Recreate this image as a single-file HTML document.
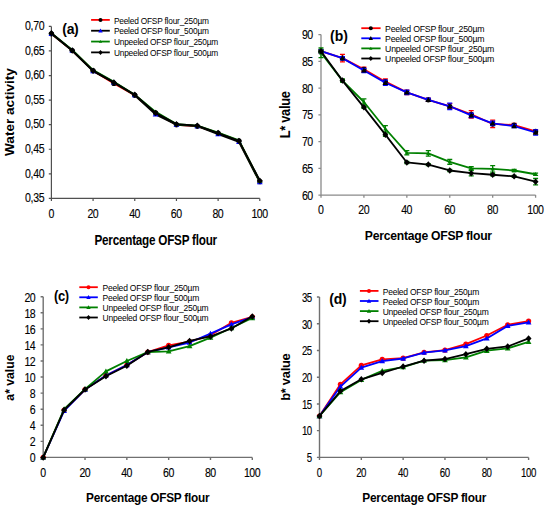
<!DOCTYPE html>
<html><head><meta charset="utf-8"><style>
html,body{margin:0;padding:0;background:#fff;width:550px;height:513px;overflow:hidden}
svg{display:block;font-family:"Liberation Sans", sans-serif}
</style></head><body>
<svg width="550" height="513" viewBox="0 0 550 513">
<rect width="550" height="513" fill="#fff"/>
<path d="M51.40,26.40 V198.40 H259.80" fill="none" stroke="#505050" stroke-width="1.2"/>
<path d="M48.80,198.40H51.40M48.80,173.83H51.40M48.80,149.26H51.40M48.80,124.69H51.40M48.80,100.11H51.40M48.80,75.54H51.40M48.80,50.97H51.40M48.80,26.40H51.40M51.40,198.40V201.00M93.08,198.40V201.00M134.76,198.40V201.00M176.44,198.40V201.00M218.12,198.40V201.00M259.80,198.40V201.00" fill="none" stroke="#505050" stroke-width="1.2"/>
<text transform="translate(44.60,202.20) scale(0.882,1)" font-size="12" font-weight="normal" text-anchor="end" fill="#000" textLength="22.24" lengthAdjust="spacing" stroke="#000" stroke-width="0.12">0,35</text>
<text transform="translate(44.60,177.63) scale(0.882,1)" font-size="12" font-weight="normal" text-anchor="end" fill="#000" textLength="22.24" lengthAdjust="spacing" stroke="#000" stroke-width="0.12">0,40</text>
<text transform="translate(44.60,153.06) scale(0.882,1)" font-size="12" font-weight="normal" text-anchor="end" fill="#000" textLength="22.24" lengthAdjust="spacing" stroke="#000" stroke-width="0.12">0,45</text>
<text transform="translate(44.60,128.49) scale(0.882,1)" font-size="12" font-weight="normal" text-anchor="end" fill="#000" textLength="22.24" lengthAdjust="spacing" stroke="#000" stroke-width="0.12">0,50</text>
<text transform="translate(44.60,103.91) scale(0.882,1)" font-size="12" font-weight="normal" text-anchor="end" fill="#000" textLength="22.24" lengthAdjust="spacing" stroke="#000" stroke-width="0.12">0,55</text>
<text transform="translate(44.60,79.34) scale(0.882,1)" font-size="12" font-weight="normal" text-anchor="end" fill="#000" textLength="22.24" lengthAdjust="spacing" stroke="#000" stroke-width="0.12">0,60</text>
<text transform="translate(44.60,54.77) scale(0.882,1)" font-size="12" font-weight="normal" text-anchor="end" fill="#000" textLength="22.24" lengthAdjust="spacing" stroke="#000" stroke-width="0.12">0,65</text>
<text transform="translate(44.60,30.20) scale(0.882,1)" font-size="12" font-weight="normal" text-anchor="end" fill="#000" textLength="22.24" lengthAdjust="spacing" stroke="#000" stroke-width="0.12">0,70</text>
<text transform="translate(51.40,217.50) scale(0.882,1)" font-size="12" font-weight="normal" text-anchor="middle" fill="#000" textLength="6.36" lengthAdjust="spacing" stroke="#000" stroke-width="0.12">0</text>
<text transform="translate(93.08,217.50) scale(0.882,1)" font-size="12" font-weight="normal" text-anchor="middle" fill="#000" textLength="12.71" lengthAdjust="spacing" stroke="#000" stroke-width="0.12">20</text>
<text transform="translate(134.76,217.50) scale(0.882,1)" font-size="12" font-weight="normal" text-anchor="middle" fill="#000" textLength="12.71" lengthAdjust="spacing" stroke="#000" stroke-width="0.12">40</text>
<text transform="translate(176.44,217.50) scale(0.882,1)" font-size="12" font-weight="normal" text-anchor="middle" fill="#000" textLength="12.71" lengthAdjust="spacing" stroke="#000" stroke-width="0.12">60</text>
<text transform="translate(218.12,217.50) scale(0.882,1)" font-size="12" font-weight="normal" text-anchor="middle" fill="#000" textLength="12.71" lengthAdjust="spacing" stroke="#000" stroke-width="0.12">80</text>
<text transform="translate(259.80,217.50) scale(0.882,1)" font-size="12" font-weight="normal" text-anchor="middle" fill="#000" textLength="19.07" lengthAdjust="spacing" stroke="#000" stroke-width="0.12">100</text>
<text transform="translate(155.80,245.40) scale(0.832,1)" font-size="14.1" font-weight="bold" text-anchor="middle" fill="#000" textLength="147.42" lengthAdjust="spacing">Percentage OFSP flour</text>
<text transform="translate(13.70,112.05) rotate(-90) scale(1.000,1)" font-size="13.6" font-weight="bold" text-anchor="middle" fill="#000">Water activity</text>
<text transform="translate(62.30,33.60) scale(0.967,1)" font-size="14.5" font-weight="bold" text-anchor="start" fill="#000" textLength="17.04" lengthAdjust="spacing">(a)</text>
<polyline points="51.40,33.77 72.24,50.48 93.08,70.63 113.92,83.41 134.76,95.20 155.60,112.89 176.44,124.69 197.28,126.16 218.12,133.04 238.96,140.90 259.80,181.69" fill="none" stroke="#ff0000" stroke-width="1.9" stroke-linejoin="round"/>
<circle cx="51.40" cy="33.77" r="2.60" fill="#000000"/>
<circle cx="72.24" cy="50.48" r="2.60" fill="#000000"/>
<circle cx="93.08" cy="70.63" r="2.60" fill="#000000"/>
<circle cx="113.92" cy="83.41" r="2.60" fill="#000000"/>
<circle cx="134.76" cy="95.20" r="2.60" fill="#000000"/>
<circle cx="155.60" cy="112.89" r="2.60" fill="#000000"/>
<circle cx="176.44" cy="124.69" r="2.60" fill="#000000"/>
<circle cx="197.28" cy="126.16" r="2.60" fill="#000000"/>
<circle cx="218.12" cy="133.04" r="2.60" fill="#000000"/>
<circle cx="238.96" cy="140.90" r="2.60" fill="#000000"/>
<circle cx="259.80" cy="181.69" r="2.60" fill="#000000"/>
<polyline points="51.40,33.77 72.24,50.48 93.08,71.12 113.92,82.42 134.76,95.20 155.60,114.37 176.44,124.69 197.28,126.16 218.12,134.02 238.96,141.89 259.80,182.18" fill="none" stroke="#000000" stroke-width="1.9" stroke-linejoin="round"/>
<path d="M51.40,30.91 L54.26,35.92 L48.54,35.92Z" fill="#0000ff"/>
<path d="M72.24,47.62 L75.10,52.62 L69.38,52.62Z" fill="#0000ff"/>
<path d="M93.08,68.26 L95.94,73.26 L90.22,73.26Z" fill="#0000ff"/>
<path d="M113.92,79.56 L116.78,84.57 L111.06,84.57Z" fill="#0000ff"/>
<path d="M134.76,92.34 L137.62,97.34 L131.90,97.34Z" fill="#0000ff"/>
<path d="M155.60,111.51 L158.46,116.51 L152.74,116.51Z" fill="#0000ff"/>
<path d="M176.44,121.83 L179.30,126.83 L173.58,126.83Z" fill="#0000ff"/>
<path d="M197.28,123.30 L200.14,128.30 L194.42,128.30Z" fill="#0000ff"/>
<path d="M218.12,131.16 L220.98,136.17 L215.26,136.17Z" fill="#0000ff"/>
<path d="M238.96,139.03 L241.82,144.03 L236.10,144.03Z" fill="#0000ff"/>
<path d="M259.80,179.32 L262.66,184.33 L256.94,184.33Z" fill="#0000ff"/>
<polyline points="51.40,33.28 72.24,49.99 93.08,70.14 113.92,81.93 134.76,94.71 155.60,111.91 176.44,124.19 197.28,125.67 218.12,132.55 238.96,140.41 259.80,181.20" fill="none" stroke="#008000" stroke-width="1.9" stroke-linejoin="round"/>
<path d="M51.40,31.08 L53.60,34.93 L49.20,34.93Z" fill="#008000"/>
<path d="M72.24,47.79 L74.44,51.64 L70.04,51.64Z" fill="#008000"/>
<path d="M93.08,67.94 L95.28,71.79 L90.88,71.79Z" fill="#008000"/>
<path d="M113.92,79.73 L116.12,83.58 L111.72,83.58Z" fill="#008000"/>
<path d="M134.76,92.51 L136.96,96.36 L132.56,96.36Z" fill="#008000"/>
<path d="M155.60,109.71 L157.80,113.56 L153.40,113.56Z" fill="#008000"/>
<path d="M176.44,121.99 L178.64,125.84 L174.24,125.84Z" fill="#008000"/>
<path d="M197.28,123.47 L199.48,127.32 L195.08,127.32Z" fill="#008000"/>
<path d="M218.12,130.35 L220.32,134.20 L215.92,134.20Z" fill="#008000"/>
<path d="M238.96,138.21 L241.16,142.06 L236.76,142.06Z" fill="#008000"/>
<path d="M259.80,179.00 L262.00,182.85 L257.60,182.85Z" fill="#008000"/>
<polyline points="51.40,33.28 72.24,50.48 93.08,70.63 113.92,82.42 134.76,94.71 155.60,112.89 176.44,124.19 197.28,125.67 218.12,133.04 238.96,140.90 259.80,180.71" fill="none" stroke="#000000" stroke-width="1.9" stroke-linejoin="round"/>
<path d="M51.40,30.03 L54.32,33.28 L51.40,36.53 L48.48,33.28Z" fill="#000000"/>
<path d="M72.24,47.23 L75.16,50.48 L72.24,53.73 L69.31,50.48Z" fill="#000000"/>
<path d="M93.08,67.38 L96.00,70.63 L93.08,73.88 L90.16,70.63Z" fill="#000000"/>
<path d="M113.92,79.17 L116.84,82.42 L113.92,85.67 L111.00,82.42Z" fill="#000000"/>
<path d="M134.76,91.46 L137.69,94.71 L134.76,97.96 L131.83,94.71Z" fill="#000000"/>
<path d="M155.60,109.64 L158.53,112.89 L155.60,116.14 L152.67,112.89Z" fill="#000000"/>
<path d="M176.44,120.94 L179.37,124.19 L176.44,127.44 L173.51,124.19Z" fill="#000000"/>
<path d="M197.28,122.42 L200.21,125.67 L197.28,128.92 L194.35,125.67Z" fill="#000000"/>
<path d="M218.12,129.79 L221.05,133.04 L218.12,136.29 L215.19,133.04Z" fill="#000000"/>
<path d="M238.96,137.65 L241.89,140.90 L238.96,144.15 L236.03,140.90Z" fill="#000000"/>
<path d="M259.80,177.46 L262.73,180.71 L259.80,183.96 L256.88,180.71Z" fill="#000000"/>
<path d="M91.10,19.90H109.80" stroke="#ff0000" stroke-width="1.8"/>
<circle cx="100.50" cy="19.90" r="2.00" fill="#000000"/>
<text transform="translate(113.90,23.60) scale(0.898,1)" font-size="9.3" font-weight="normal" text-anchor="start" fill="#000" textLength="105.87" lengthAdjust="spacing">Peeled OFSP flour_250µm</text>
<path d="M91.10,30.73H109.80" stroke="#000000" stroke-width="1.8"/>
<path d="M100.50,28.53 L102.70,32.38 L98.30,32.38Z" fill="#0000ff"/>
<text transform="translate(113.90,34.43) scale(0.898,1)" font-size="9.3" font-weight="normal" text-anchor="start" fill="#000" textLength="105.87" lengthAdjust="spacing">Peeled OFSP flour_500µm</text>
<path d="M91.10,41.56H109.80" stroke="#008000" stroke-width="1.8"/>
<path d="M100.50,39.91 L102.15,42.80 L98.85,42.80Z" fill="#008000"/>
<text transform="translate(113.90,45.26) scale(0.898,1)" font-size="9.3" font-weight="normal" text-anchor="start" fill="#000" textLength="116.21" lengthAdjust="spacing">Unpeeled OFSP flour_250µm</text>
<path d="M91.10,52.39H109.80" stroke="#000000" stroke-width="1.8"/>
<path d="M100.50,49.89 L102.75,52.39 L100.50,54.89 L98.25,52.39Z" fill="#000000"/>
<text transform="translate(113.90,56.09) scale(0.898,1)" font-size="9.3" font-weight="normal" text-anchor="start" fill="#000" textLength="116.21" lengthAdjust="spacing">Unpeeled OFSP flour_500µm</text>
<path d="M321.00,34.60 V195.10 H535.60" fill="none" stroke="#8a8a8a" stroke-width="1.3"/>
<path d="M318.40,195.10H321.00M318.40,168.35H321.00M318.40,141.60H321.00M318.40,114.85H321.00M318.40,88.10H321.00M318.40,61.35H321.00M318.40,34.60H321.00M321.00,195.10V197.70M363.92,195.10V197.70M406.84,195.10V197.70M449.76,195.10V197.70M492.68,195.10V197.70M535.60,195.10V197.70" fill="none" stroke="#8a8a8a" stroke-width="1.3"/>
<text transform="translate(313.20,199.50) scale(0.877,1)" font-size="12.1" font-weight="normal" text-anchor="end" fill="#000" textLength="12.82" lengthAdjust="spacing" stroke="#000" stroke-width="0.12">60</text>
<text transform="translate(313.20,172.75) scale(0.877,1)" font-size="12.1" font-weight="normal" text-anchor="end" fill="#000" textLength="12.82" lengthAdjust="spacing" stroke="#000" stroke-width="0.12">65</text>
<text transform="translate(313.20,146.00) scale(0.877,1)" font-size="12.1" font-weight="normal" text-anchor="end" fill="#000" textLength="12.82" lengthAdjust="spacing" stroke="#000" stroke-width="0.12">70</text>
<text transform="translate(313.20,119.25) scale(0.877,1)" font-size="12.1" font-weight="normal" text-anchor="end" fill="#000" textLength="12.82" lengthAdjust="spacing" stroke="#000" stroke-width="0.12">75</text>
<text transform="translate(313.20,92.50) scale(0.877,1)" font-size="12.1" font-weight="normal" text-anchor="end" fill="#000" textLength="12.82" lengthAdjust="spacing" stroke="#000" stroke-width="0.12">80</text>
<text transform="translate(313.20,65.75) scale(0.877,1)" font-size="12.1" font-weight="normal" text-anchor="end" fill="#000" textLength="12.82" lengthAdjust="spacing" stroke="#000" stroke-width="0.12">85</text>
<text transform="translate(313.20,39.00) scale(0.877,1)" font-size="12.1" font-weight="normal" text-anchor="end" fill="#000" textLength="12.82" lengthAdjust="spacing" stroke="#000" stroke-width="0.12">90</text>
<text transform="translate(321.00,213.50) scale(0.877,1)" font-size="12.1" font-weight="normal" text-anchor="middle" fill="#000" textLength="6.41" lengthAdjust="spacing" stroke="#000" stroke-width="0.12">0</text>
<text transform="translate(363.92,213.50) scale(0.877,1)" font-size="12.1" font-weight="normal" text-anchor="middle" fill="#000" textLength="12.82" lengthAdjust="spacing" stroke="#000" stroke-width="0.12">20</text>
<text transform="translate(406.84,213.50) scale(0.877,1)" font-size="12.1" font-weight="normal" text-anchor="middle" fill="#000" textLength="12.82" lengthAdjust="spacing" stroke="#000" stroke-width="0.12">40</text>
<text transform="translate(449.76,213.50) scale(0.877,1)" font-size="12.1" font-weight="normal" text-anchor="middle" fill="#000" textLength="12.82" lengthAdjust="spacing" stroke="#000" stroke-width="0.12">60</text>
<text transform="translate(492.68,213.50) scale(0.877,1)" font-size="12.1" font-weight="normal" text-anchor="middle" fill="#000" textLength="12.82" lengthAdjust="spacing" stroke="#000" stroke-width="0.12">80</text>
<text transform="translate(535.60,213.50) scale(0.877,1)" font-size="12.1" font-weight="normal" text-anchor="middle" fill="#000" textLength="19.23" lengthAdjust="spacing" stroke="#000" stroke-width="0.12">100</text>
<text transform="translate(428.45,239.50) scale(0.936,1)" font-size="13" font-weight="bold" text-anchor="middle" fill="#000" textLength="135.92" lengthAdjust="spacing">Percentage OFSP flour</text>
<text transform="translate(290.00,114.70) rotate(-90) scale(0.915,1)" font-size="14.0" font-weight="bold" text-anchor="middle" fill="#000" textLength="51.62" lengthAdjust="spacing">L* value</text>
<text transform="translate(330.10,40.80) scale(1.000,1)" font-size="14" font-weight="bold" text-anchor="start" fill="#000">(b)</text>
<path d="M321.00,49.58V52.79M318.50,49.58h5M318.50,52.79h5M342.46,54.40V61.89M339.96,54.40h5M339.96,61.89h5M363.92,67.23V71.52M361.42,67.23h5M361.42,71.52h5M385.38,79.00V84.35M382.88,79.00h5M382.88,84.35h5M406.84,90.24V94.52M404.34,90.24h5M404.34,94.52h5M428.30,98.27V101.47M425.80,98.27h5M425.80,101.47h5M449.76,103.62V108.97M447.26,103.62h5M447.26,108.97h5M471.22,110.57V118.06M468.72,110.57h5M468.72,118.06h5M492.68,120.20V127.69M490.18,120.20h5M490.18,127.69h5M514.14,123.41V126.62M511.64,123.41h5M511.64,126.62h5M535.60,129.83V133.04M533.10,129.83h5M533.10,133.04h5" fill="none" stroke="#ff0000" stroke-width="1.3"/>
<polyline points="321.00,51.18 342.46,58.14 363.92,69.38 385.38,81.68 406.84,92.38 428.30,99.87 449.76,106.29 471.22,114.32 492.68,123.95 514.14,125.02 535.60,131.43" fill="none" stroke="#ff0000" stroke-width="1.8" stroke-linejoin="round"/>
<circle cx="321.00" cy="51.18" r="2.60" fill="#000000"/>
<circle cx="342.46" cy="58.14" r="2.60" fill="#000000"/>
<circle cx="363.92" cy="69.38" r="2.60" fill="#000000"/>
<circle cx="385.38" cy="81.68" r="2.60" fill="#000000"/>
<circle cx="406.84" cy="92.38" r="2.60" fill="#000000"/>
<circle cx="428.30" cy="99.87" r="2.60" fill="#000000"/>
<circle cx="449.76" cy="106.29" r="2.60" fill="#000000"/>
<circle cx="471.22" cy="114.32" r="2.60" fill="#000000"/>
<circle cx="492.68" cy="123.95" r="2.60" fill="#000000"/>
<circle cx="514.14" cy="125.02" r="2.60" fill="#000000"/>
<circle cx="535.60" cy="131.43" r="2.60" fill="#000000"/>
<path d="M321.00,49.58V52.79M318.50,49.58h5M318.50,52.79h5M342.46,56.54V59.75M339.96,56.54h5M339.96,59.75h5M363.92,68.30V72.59M361.42,68.30h5M361.42,72.59h5M385.38,80.08V85.43M382.88,80.08h5M382.88,85.43h5M406.84,90.24V94.52M404.34,90.24h5M404.34,94.52h5M428.30,98.27V101.47M425.80,98.27h5M425.80,101.47h5M449.76,103.08V109.50M447.26,103.08h5M447.26,109.50h5M471.22,113.24V117.53M468.72,113.24h5M468.72,117.53h5M492.68,121.27V125.55M490.18,121.27h5M490.18,125.55h5M514.14,124.48V127.69M511.64,124.48h5M511.64,127.69h5M535.60,129.83V135.18M533.10,129.83h5M533.10,135.18h5" fill="none" stroke="#0000ff" stroke-width="1.3"/>
<polyline points="321.00,51.18 342.46,58.14 363.92,70.45 385.38,82.75 406.84,92.38 428.30,99.87 449.76,106.29 471.22,115.38 492.68,123.41 514.14,126.08 535.60,132.50" fill="none" stroke="#0000ff" stroke-width="1.8" stroke-linejoin="round"/>
<path d="M321.00,48.32 L323.86,53.33 L318.14,53.33Z" fill="#000000"/>
<path d="M342.46,55.28 L345.32,60.29 L339.60,60.29Z" fill="#000000"/>
<path d="M363.92,67.59 L366.78,72.59 L361.06,72.59Z" fill="#000000"/>
<path d="M385.38,79.89 L388.24,84.89 L382.52,84.89Z" fill="#000000"/>
<path d="M406.84,89.52 L409.70,94.52 L403.98,94.52Z" fill="#000000"/>
<path d="M428.30,97.01 L431.16,102.02 L425.44,102.02Z" fill="#000000"/>
<path d="M449.76,103.43 L452.62,108.44 L446.90,108.44Z" fill="#000000"/>
<path d="M471.22,112.52 L474.08,117.53 L468.36,117.53Z" fill="#000000"/>
<path d="M492.68,120.55 L495.54,125.55 L489.82,125.55Z" fill="#000000"/>
<path d="M514.14,123.22 L517.00,128.23 L511.28,128.23Z" fill="#000000"/>
<path d="M535.60,129.64 L538.46,134.65 L532.74,134.65Z" fill="#000000"/>
<path d="M321.00,47.98V57.61M318.50,47.98h5M318.50,57.61h5M342.46,79.00V82.21M339.96,79.00h5M339.96,82.21h5M363.92,98.80V105.22M361.42,98.80h5M361.42,105.22h5M385.38,125.55V131.97M382.88,125.55h5M382.88,131.97h5M406.84,150.69V154.97M404.34,150.69h5M404.34,154.97h5M428.30,150.70V156.05M425.80,150.70h5M425.80,156.05h5M449.76,159.52V164.34M447.26,159.52h5M447.26,164.34h5M471.22,166.75V169.95M468.72,166.75h5M468.72,169.95h5M492.68,165.67V172.09M490.18,165.67h5M490.18,172.09h5M514.14,169.42V171.56M511.64,169.42h5M511.64,171.56h5M535.60,173.17V175.31M533.10,173.17h5M533.10,175.31h5" fill="none" stroke="#008000" stroke-width="1.3"/>
<polyline points="321.00,52.79 342.46,80.61 363.92,102.01 385.38,128.76 406.84,152.83 428.30,153.37 449.76,161.93 471.22,168.35 492.68,168.88 514.14,170.49 535.60,174.24" fill="none" stroke="#008000" stroke-width="1.8" stroke-linejoin="round"/>
<path d="M321.00,50.59 L323.20,54.44 L318.80,54.44Z" fill="#008000"/>
<path d="M342.46,78.41 L344.66,82.26 L340.26,82.26Z" fill="#008000"/>
<path d="M363.92,99.81 L366.12,103.66 L361.72,103.66Z" fill="#008000"/>
<path d="M385.38,126.56 L387.58,130.41 L383.18,130.41Z" fill="#008000"/>
<path d="M406.84,150.63 L409.04,154.48 L404.64,154.48Z" fill="#008000"/>
<path d="M428.30,151.17 L430.50,155.02 L426.10,155.02Z" fill="#008000"/>
<path d="M449.76,159.73 L451.96,163.58 L447.56,163.58Z" fill="#008000"/>
<path d="M471.22,166.15 L473.42,170.00 L469.02,170.00Z" fill="#008000"/>
<path d="M492.68,166.68 L494.88,170.53 L490.48,170.53Z" fill="#008000"/>
<path d="M514.14,168.29 L516.34,172.14 L511.94,172.14Z" fill="#008000"/>
<path d="M535.60,172.04 L537.80,175.89 L533.40,175.89Z" fill="#008000"/>
<path d="M321.00,50.11V52.25M318.50,50.11h5M318.50,52.25h5M342.46,79.54V81.68M339.96,79.54h5M339.96,81.68h5M363.92,106.29V108.43M361.42,106.29h5M361.42,108.43h5M385.38,133.04V136.25M382.88,133.04h5M382.88,136.25h5M406.84,161.40V163.54M404.34,161.40h5M404.34,163.54h5M428.30,163.53V165.67M425.80,163.53h5M425.80,165.67h5M449.76,169.42V171.56M447.26,169.42h5M447.26,171.56h5M471.22,170.49V175.84M468.72,170.49h5M468.72,175.84h5M492.68,173.70V175.84M490.18,173.70h5M490.18,175.84h5M514.14,175.30V177.44M511.64,175.30h5M511.64,177.44h5M535.60,178.51V184.94M533.10,178.51h5M533.10,184.94h5" fill="none" stroke="#008000" stroke-width="1.3"/>
<polyline points="321.00,51.18 342.46,80.61 363.92,107.36 385.38,134.65 406.84,162.47 428.30,164.60 449.76,170.49 471.22,173.17 492.68,174.77 514.14,176.38 535.60,181.72" fill="none" stroke="#000000" stroke-width="1.8" stroke-linejoin="round"/>
<path d="M321.00,47.93 L323.93,51.18 L321.00,54.43 L318.07,51.18Z" fill="#000000"/>
<path d="M342.46,77.36 L345.38,80.61 L342.46,83.86 L339.53,80.61Z" fill="#000000"/>
<path d="M363.92,104.11 L366.85,107.36 L363.92,110.61 L361.00,107.36Z" fill="#000000"/>
<path d="M385.38,131.40 L388.31,134.65 L385.38,137.90 L382.45,134.65Z" fill="#000000"/>
<path d="M406.84,159.22 L409.77,162.47 L406.84,165.72 L403.92,162.47Z" fill="#000000"/>
<path d="M428.30,161.35 L431.23,164.60 L428.30,167.85 L425.38,164.60Z" fill="#000000"/>
<path d="M449.76,167.24 L452.69,170.49 L449.76,173.74 L446.83,170.49Z" fill="#000000"/>
<path d="M471.22,169.92 L474.15,173.17 L471.22,176.42 L468.30,173.17Z" fill="#000000"/>
<path d="M492.68,171.52 L495.61,174.77 L492.68,178.02 L489.75,174.77Z" fill="#000000"/>
<path d="M514.14,173.12 L517.07,176.38 L514.14,179.62 L511.22,176.38Z" fill="#000000"/>
<path d="M535.60,178.47 L538.52,181.72 L535.60,184.97 L532.68,181.72Z" fill="#000000"/>
<path d="M361.30,28.20H380.60" stroke="#ff0000" stroke-width="1.8"/>
<circle cx="370.80" cy="28.20" r="2.00" fill="#000000"/>
<text transform="translate(385.10,31.60) scale(0.982,1)" font-size="8.9" font-weight="normal" text-anchor="start" fill="#000" textLength="101.32" lengthAdjust="spacing">Peeled OFSP flour_250µm</text>
<path d="M361.30,38.30H380.60" stroke="#0000ff" stroke-width="1.8"/>
<path d="M370.80,36.10 L373.00,39.95 L368.60,39.95Z" fill="#000000"/>
<text transform="translate(385.10,41.70) scale(0.982,1)" font-size="8.9" font-weight="normal" text-anchor="start" fill="#000" textLength="101.32" lengthAdjust="spacing">Peeled OFSP flour_500µm</text>
<path d="M361.30,48.40H380.60" stroke="#008000" stroke-width="1.8"/>
<path d="M370.80,46.75 L372.45,49.64 L369.15,49.64Z" fill="#008000"/>
<text transform="translate(385.10,51.80) scale(0.982,1)" font-size="8.9" font-weight="normal" text-anchor="start" fill="#000" textLength="111.21" lengthAdjust="spacing">Unpeeled OFSP flour_250µm</text>
<path d="M361.30,58.50H380.60" stroke="#000000" stroke-width="1.8"/>
<path d="M370.80,56.00 L373.05,58.50 L370.80,61.00 L368.55,58.50Z" fill="#000000"/>
<text transform="translate(385.10,61.90) scale(0.982,1)" font-size="8.9" font-weight="normal" text-anchor="start" fill="#000" textLength="111.21" lengthAdjust="spacing">Unpeeled OFSP flour_500µm</text>
<path d="M43.20,296.70 V457.40 H252.30" fill="none" stroke="#707070" stroke-width="1.4"/>
<path d="M40.60,457.40H43.20M40.60,441.33H43.20M40.60,425.26H43.20M40.60,409.19H43.20M40.60,393.12H43.20M40.60,377.05H43.20M40.60,360.98H43.20M40.60,344.91H43.20M40.60,328.84H43.20M40.60,312.77H43.20M40.60,296.70H43.20M43.20,457.40V460.00M85.02,457.40V460.00M126.84,457.40V460.00M168.66,457.40V460.00M210.48,457.40V460.00M252.30,457.40V460.00" fill="none" stroke="#707070" stroke-width="1.4"/>
<text transform="translate(35.60,462.20) scale(0.882,1)" font-size="12" font-weight="normal" text-anchor="end" fill="#000" textLength="6.36" lengthAdjust="spacing" stroke="#000" stroke-width="0.12">0</text>
<text transform="translate(35.60,446.13) scale(0.882,1)" font-size="12" font-weight="normal" text-anchor="end" fill="#000" textLength="6.36" lengthAdjust="spacing" stroke="#000" stroke-width="0.12">2</text>
<text transform="translate(35.60,430.06) scale(0.882,1)" font-size="12" font-weight="normal" text-anchor="end" fill="#000" textLength="6.36" lengthAdjust="spacing" stroke="#000" stroke-width="0.12">4</text>
<text transform="translate(35.60,413.99) scale(0.882,1)" font-size="12" font-weight="normal" text-anchor="end" fill="#000" textLength="6.36" lengthAdjust="spacing" stroke="#000" stroke-width="0.12">6</text>
<text transform="translate(35.60,397.92) scale(0.882,1)" font-size="12" font-weight="normal" text-anchor="end" fill="#000" textLength="6.36" lengthAdjust="spacing" stroke="#000" stroke-width="0.12">8</text>
<text transform="translate(35.60,381.85) scale(0.882,1)" font-size="12" font-weight="normal" text-anchor="end" fill="#000" textLength="12.71" lengthAdjust="spacing" stroke="#000" stroke-width="0.12">10</text>
<text transform="translate(35.60,365.78) scale(0.882,1)" font-size="12" font-weight="normal" text-anchor="end" fill="#000" textLength="12.71" lengthAdjust="spacing" stroke="#000" stroke-width="0.12">12</text>
<text transform="translate(35.60,349.71) scale(0.882,1)" font-size="12" font-weight="normal" text-anchor="end" fill="#000" textLength="12.71" lengthAdjust="spacing" stroke="#000" stroke-width="0.12">14</text>
<text transform="translate(35.60,333.64) scale(0.882,1)" font-size="12" font-weight="normal" text-anchor="end" fill="#000" textLength="12.71" lengthAdjust="spacing" stroke="#000" stroke-width="0.12">16</text>
<text transform="translate(35.60,317.57) scale(0.882,1)" font-size="12" font-weight="normal" text-anchor="end" fill="#000" textLength="12.71" lengthAdjust="spacing" stroke="#000" stroke-width="0.12">18</text>
<text transform="translate(35.60,301.50) scale(0.882,1)" font-size="12" font-weight="normal" text-anchor="end" fill="#000" textLength="12.71" lengthAdjust="spacing" stroke="#000" stroke-width="0.12">20</text>
<text transform="translate(43.20,476.50) scale(0.882,1)" font-size="12" font-weight="normal" text-anchor="middle" fill="#000" textLength="6.36" lengthAdjust="spacing" stroke="#000" stroke-width="0.12">0</text>
<text transform="translate(85.02,476.50) scale(0.882,1)" font-size="12" font-weight="normal" text-anchor="middle" fill="#000" textLength="12.71" lengthAdjust="spacing" stroke="#000" stroke-width="0.12">20</text>
<text transform="translate(126.84,476.50) scale(0.882,1)" font-size="12" font-weight="normal" text-anchor="middle" fill="#000" textLength="12.71" lengthAdjust="spacing" stroke="#000" stroke-width="0.12">40</text>
<text transform="translate(168.66,476.50) scale(0.882,1)" font-size="12" font-weight="normal" text-anchor="middle" fill="#000" textLength="12.71" lengthAdjust="spacing" stroke="#000" stroke-width="0.12">60</text>
<text transform="translate(210.48,476.50) scale(0.882,1)" font-size="12" font-weight="normal" text-anchor="middle" fill="#000" textLength="12.71" lengthAdjust="spacing" stroke="#000" stroke-width="0.12">80</text>
<text transform="translate(252.30,476.50) scale(0.882,1)" font-size="12" font-weight="normal" text-anchor="middle" fill="#000" textLength="19.07" lengthAdjust="spacing" stroke="#000" stroke-width="0.12">100</text>
<text transform="translate(147.80,501.90) scale(0.869,1)" font-size="13.6" font-weight="bold" text-anchor="middle" fill="#000" textLength="142.19" lengthAdjust="spacing">Percentage OFSP flour</text>
<text transform="translate(14.40,377.60) rotate(-90) scale(1.000,1)" font-size="12.2" font-weight="bold" text-anchor="middle" fill="#000">a* value</text>
<text transform="translate(53.90,300.50) scale(0.926,1)" font-size="14" font-weight="bold" text-anchor="start" fill="#000" textLength="16.45" lengthAdjust="spacing">(c)</text>
<polyline points="43.20,457.40 64.11,409.99 85.02,389.50 105.93,375.44 126.84,365.00 147.75,352.14 168.66,345.31 189.57,341.70 210.48,335.27 231.39,322.81 252.30,316.79" fill="none" stroke="#ff0000" stroke-width="1.8" stroke-linejoin="round"/>
<circle cx="43.20" cy="457.40" r="2.60" fill="#ff0000"/>
<circle cx="64.11" cy="409.99" r="2.60" fill="#ff0000"/>
<circle cx="85.02" cy="389.50" r="2.60" fill="#ff0000"/>
<circle cx="105.93" cy="375.44" r="2.60" fill="#ff0000"/>
<circle cx="126.84" cy="365.00" r="2.60" fill="#ff0000"/>
<circle cx="147.75" cy="352.14" r="2.60" fill="#ff0000"/>
<circle cx="168.66" cy="345.31" r="2.60" fill="#ff0000"/>
<circle cx="189.57" cy="341.70" r="2.60" fill="#ff0000"/>
<circle cx="210.48" cy="335.27" r="2.60" fill="#ff0000"/>
<circle cx="231.39" cy="322.81" r="2.60" fill="#ff0000"/>
<circle cx="252.30" cy="316.79" r="2.60" fill="#ff0000"/>
<polyline points="43.20,457.40 64.11,410.80 85.02,389.50 105.93,375.44 126.84,365.00 147.75,352.14 168.66,347.32 189.57,342.50 210.48,333.66 231.39,324.42 252.30,317.19" fill="none" stroke="#0000ff" stroke-width="1.8" stroke-linejoin="round"/>
<path d="M43.20,454.54 L46.06,459.54 L40.34,459.54Z" fill="#0000ff"/>
<path d="M64.11,407.94 L66.97,412.94 L61.25,412.94Z" fill="#0000ff"/>
<path d="M85.02,386.64 L87.88,391.65 L82.16,391.65Z" fill="#0000ff"/>
<path d="M105.93,372.58 L108.79,377.59 L103.07,377.59Z" fill="#0000ff"/>
<path d="M126.84,362.14 L129.70,367.14 L123.98,367.14Z" fill="#0000ff"/>
<path d="M147.75,349.28 L150.61,354.29 L144.89,354.29Z" fill="#0000ff"/>
<path d="M168.66,344.46 L171.52,349.47 L165.80,349.47Z" fill="#0000ff"/>
<path d="M189.57,339.64 L192.43,344.64 L186.71,344.64Z" fill="#0000ff"/>
<path d="M210.48,330.80 L213.34,335.81 L207.62,335.81Z" fill="#0000ff"/>
<path d="M231.39,321.56 L234.25,326.57 L228.53,326.57Z" fill="#0000ff"/>
<path d="M252.30,314.33 L255.16,319.33 L249.44,319.33Z" fill="#0000ff"/>
<polyline points="43.20,457.40 64.11,409.19 85.02,389.10 105.93,371.43 126.84,360.98 147.75,352.14 168.66,351.34 189.57,346.12 210.48,337.68 231.39,328.04 252.30,317.99" fill="none" stroke="#008000" stroke-width="1.8" stroke-linejoin="round"/>
<path d="M43.20,454.54 L46.06,459.54 L40.34,459.54Z" fill="#008000"/>
<path d="M64.11,406.33 L66.97,411.33 L61.25,411.33Z" fill="#008000"/>
<path d="M85.02,386.24 L87.88,391.25 L82.16,391.25Z" fill="#008000"/>
<path d="M105.93,368.57 L108.79,373.57 L103.07,373.57Z" fill="#008000"/>
<path d="M126.84,358.12 L129.70,363.12 L123.98,363.12Z" fill="#008000"/>
<path d="M147.75,349.28 L150.61,354.29 L144.89,354.29Z" fill="#008000"/>
<path d="M168.66,348.48 L171.52,353.48 L165.80,353.48Z" fill="#008000"/>
<path d="M189.57,343.26 L192.43,348.26 L186.71,348.26Z" fill="#008000"/>
<path d="M210.48,334.82 L213.34,339.82 L207.62,339.82Z" fill="#008000"/>
<path d="M231.39,325.18 L234.25,330.18 L228.53,330.18Z" fill="#008000"/>
<path d="M252.30,315.13 L255.16,320.14 L249.44,320.14Z" fill="#008000"/>
<polyline points="43.20,457.40 64.11,409.99 85.02,389.50 105.93,376.25 126.84,365.80 147.75,351.90 168.66,347.32 189.57,340.89 210.48,336.47 231.39,328.44 252.30,316.39" fill="none" stroke="#000000" stroke-width="1.8" stroke-linejoin="round"/>
<path d="M43.20,454.15 L46.12,457.40 L43.20,460.65 L40.28,457.40Z" fill="#000000"/>
<path d="M64.11,406.74 L67.03,409.99 L64.11,413.24 L61.19,409.99Z" fill="#000000"/>
<path d="M85.02,386.25 L87.95,389.50 L85.02,392.75 L82.10,389.50Z" fill="#000000"/>
<path d="M105.93,373.00 L108.86,376.25 L105.93,379.50 L103.01,376.25Z" fill="#000000"/>
<path d="M126.84,362.55 L129.77,365.80 L126.84,369.05 L123.92,365.80Z" fill="#000000"/>
<path d="M147.75,348.65 L150.68,351.90 L147.75,355.15 L144.82,351.90Z" fill="#000000"/>
<path d="M168.66,344.07 L171.59,347.32 L168.66,350.57 L165.74,347.32Z" fill="#000000"/>
<path d="M189.57,337.64 L192.50,340.89 L189.57,344.14 L186.64,340.89Z" fill="#000000"/>
<path d="M210.48,333.22 L213.41,336.47 L210.48,339.72 L207.56,336.47Z" fill="#000000"/>
<path d="M231.39,325.19 L234.32,328.44 L231.39,331.69 L228.47,328.44Z" fill="#000000"/>
<path d="M252.30,313.14 L255.23,316.39 L252.30,319.64 L249.38,316.39Z" fill="#000000"/>
<path d="M79.30,287.20H97.80" stroke="#ff0000" stroke-width="1.8"/>
<circle cx="88.50" cy="287.20" r="2.00" fill="#ff0000"/>
<text transform="translate(102.50,290.50) scale(0.977,1)" font-size="8.7" font-weight="normal" text-anchor="start" fill="#000" textLength="99.04" lengthAdjust="spacing">Peeled OFSP flour_250µm</text>
<path d="M79.30,297.30H97.80" stroke="#0000ff" stroke-width="1.8"/>
<path d="M88.50,295.10 L90.70,298.95 L86.30,298.95Z" fill="#0000ff"/>
<text transform="translate(102.50,300.60) scale(0.977,1)" font-size="8.7" font-weight="normal" text-anchor="start" fill="#000" textLength="99.04" lengthAdjust="spacing">Peeled OFSP flour_500µm</text>
<path d="M79.30,307.40H97.80" stroke="#008000" stroke-width="1.8"/>
<path d="M88.50,305.20 L90.70,309.05 L86.30,309.05Z" fill="#008000"/>
<text transform="translate(102.50,310.70) scale(0.977,1)" font-size="8.7" font-weight="normal" text-anchor="start" fill="#000" textLength="108.71" lengthAdjust="spacing">Unpeeled OFSP flour_250µm</text>
<path d="M79.30,317.50H97.80" stroke="#000000" stroke-width="1.8"/>
<path d="M88.50,315.00 L90.75,317.50 L88.50,320.00 L86.25,317.50Z" fill="#000000"/>
<text transform="translate(102.50,320.80) scale(0.977,1)" font-size="8.7" font-weight="normal" text-anchor="start" fill="#000" textLength="108.71" lengthAdjust="spacing">Unpeeled OFSP flour_500µm</text>
<path d="M319.50,297.00 V457.40 H528.60" fill="none" stroke="#707070" stroke-width="1.4"/>
<path d="M316.90,457.40H319.50M316.90,430.67H319.50M316.90,403.93H319.50M316.90,377.20H319.50M316.90,350.47H319.50M316.90,323.73H319.50M316.90,297.00H319.50M319.50,457.40V460.00M361.32,457.40V460.00M403.14,457.40V460.00M444.96,457.40V460.00M486.78,457.40V460.00M528.60,457.40V460.00" fill="none" stroke="#707070" stroke-width="1.4"/>
<text transform="translate(312.20,462.20) scale(0.809,1)" font-size="12" font-weight="normal" text-anchor="end" fill="#000" textLength="6.36" lengthAdjust="spacing" stroke="#000" stroke-width="0.12">5</text>
<text transform="translate(312.20,435.47) scale(0.809,1)" font-size="12" font-weight="normal" text-anchor="end" fill="#000" textLength="12.71" lengthAdjust="spacing" stroke="#000" stroke-width="0.12">10</text>
<text transform="translate(312.20,408.73) scale(0.809,1)" font-size="12" font-weight="normal" text-anchor="end" fill="#000" textLength="12.71" lengthAdjust="spacing" stroke="#000" stroke-width="0.12">15</text>
<text transform="translate(312.20,382.00) scale(0.809,1)" font-size="12" font-weight="normal" text-anchor="end" fill="#000" textLength="12.71" lengthAdjust="spacing" stroke="#000" stroke-width="0.12">20</text>
<text transform="translate(312.20,355.27) scale(0.809,1)" font-size="12" font-weight="normal" text-anchor="end" fill="#000" textLength="12.71" lengthAdjust="spacing" stroke="#000" stroke-width="0.12">25</text>
<text transform="translate(312.20,328.53) scale(0.809,1)" font-size="12" font-weight="normal" text-anchor="end" fill="#000" textLength="12.71" lengthAdjust="spacing" stroke="#000" stroke-width="0.12">30</text>
<text transform="translate(312.20,301.80) scale(0.809,1)" font-size="12" font-weight="normal" text-anchor="end" fill="#000" textLength="12.71" lengthAdjust="spacing" stroke="#000" stroke-width="0.12">35</text>
<text transform="translate(319.50,476.50) scale(0.809,1)" font-size="12" font-weight="normal" text-anchor="middle" fill="#000" textLength="6.36" lengthAdjust="spacing" stroke="#000" stroke-width="0.12">0</text>
<text transform="translate(361.32,476.50) scale(0.809,1)" font-size="12" font-weight="normal" text-anchor="middle" fill="#000" textLength="12.71" lengthAdjust="spacing" stroke="#000" stroke-width="0.12">20</text>
<text transform="translate(403.14,476.50) scale(0.809,1)" font-size="12" font-weight="normal" text-anchor="middle" fill="#000" textLength="12.71" lengthAdjust="spacing" stroke="#000" stroke-width="0.12">40</text>
<text transform="translate(444.96,476.50) scale(0.809,1)" font-size="12" font-weight="normal" text-anchor="middle" fill="#000" textLength="12.71" lengthAdjust="spacing" stroke="#000" stroke-width="0.12">60</text>
<text transform="translate(486.78,476.50) scale(0.809,1)" font-size="12" font-weight="normal" text-anchor="middle" fill="#000" textLength="12.71" lengthAdjust="spacing" stroke="#000" stroke-width="0.12">80</text>
<text transform="translate(528.60,476.50) scale(0.809,1)" font-size="12" font-weight="normal" text-anchor="middle" fill="#000" textLength="19.07" lengthAdjust="spacing" stroke="#000" stroke-width="0.12">100</text>
<text transform="translate(424.30,501.70) scale(0.905,1)" font-size="13.1" font-weight="bold" text-anchor="middle" fill="#000" textLength="136.97" lengthAdjust="spacing">Percentage OFSP flour</text>
<text transform="translate(290.10,377.05) rotate(-90) scale(0.957,1)" font-size="13.5" font-weight="bold" text-anchor="middle" fill="#000" textLength="49.78" lengthAdjust="spacing">b* value</text>
<text transform="translate(329.30,304.00) scale(1.000,1)" font-size="14" font-weight="bold" text-anchor="start" fill="#000" textLength="17.34" lengthAdjust="spacing">(d)</text>
<polyline points="319.50,416.02 340.41,384.36 361.32,365.44 382.23,359.29 403.14,358.22 424.05,352.34 444.96,350.20 465.87,344.05 486.78,335.50 507.69,324.80 528.60,321.06" fill="none" stroke="#ff0000" stroke-width="1.8" stroke-linejoin="round"/>
<circle cx="319.50" cy="416.02" r="2.60" fill="#ff0000"/>
<circle cx="340.41" cy="384.36" r="2.60" fill="#ff0000"/>
<circle cx="361.32" cy="365.44" r="2.60" fill="#ff0000"/>
<circle cx="382.23" cy="359.29" r="2.60" fill="#ff0000"/>
<circle cx="403.14" cy="358.22" r="2.60" fill="#ff0000"/>
<circle cx="424.05" cy="352.34" r="2.60" fill="#ff0000"/>
<circle cx="444.96" cy="350.20" r="2.60" fill="#ff0000"/>
<circle cx="465.87" cy="344.05" r="2.60" fill="#ff0000"/>
<circle cx="486.78" cy="335.50" r="2.60" fill="#ff0000"/>
<circle cx="507.69" cy="324.80" r="2.60" fill="#ff0000"/>
<circle cx="528.60" cy="321.06" r="2.60" fill="#ff0000"/>
<polyline points="319.50,416.02 340.41,386.56 361.32,367.58 382.23,361.16 403.14,358.49 424.05,352.61 444.96,350.47 465.87,346.19 486.78,338.44 507.69,325.87 528.60,322.40" fill="none" stroke="#0000ff" stroke-width="1.8" stroke-linejoin="round"/>
<path d="M319.50,413.16 L322.36,418.16 L316.64,418.16Z" fill="#0000ff"/>
<path d="M340.41,383.70 L343.27,388.70 L337.55,388.70Z" fill="#0000ff"/>
<path d="M361.32,364.72 L364.18,369.72 L358.46,369.72Z" fill="#0000ff"/>
<path d="M382.23,358.30 L385.09,363.30 L379.37,363.30Z" fill="#0000ff"/>
<path d="M403.14,355.63 L406.00,360.63 L400.28,360.63Z" fill="#0000ff"/>
<path d="M424.05,349.75 L426.91,354.75 L421.19,354.75Z" fill="#0000ff"/>
<path d="M444.96,347.61 L447.82,352.61 L442.10,352.61Z" fill="#0000ff"/>
<path d="M465.87,343.33 L468.73,348.33 L463.01,348.33Z" fill="#0000ff"/>
<path d="M486.78,335.58 L489.64,340.58 L483.92,340.58Z" fill="#0000ff"/>
<path d="M507.69,323.01 L510.55,328.02 L504.83,328.02Z" fill="#0000ff"/>
<path d="M528.60,319.54 L531.46,324.54 L525.74,324.54Z" fill="#0000ff"/>
<polyline points="319.50,416.02 340.41,392.17 361.32,379.87 382.23,370.78 403.14,367.04 424.05,360.63 444.96,360.09 465.87,357.42 486.78,350.73 507.69,348.33 528.60,341.91" fill="none" stroke="#008000" stroke-width="1.8" stroke-linejoin="round"/>
<path d="M319.50,413.16 L322.36,418.16 L316.64,418.16Z" fill="#008000"/>
<path d="M340.41,389.31 L343.27,394.32 L337.55,394.32Z" fill="#008000"/>
<path d="M361.32,377.01 L364.18,382.02 L358.46,382.02Z" fill="#008000"/>
<path d="M382.23,367.92 L385.09,372.93 L379.37,372.93Z" fill="#008000"/>
<path d="M403.14,364.18 L406.00,369.19 L400.28,369.19Z" fill="#008000"/>
<path d="M424.05,357.77 L426.91,362.77 L421.19,362.77Z" fill="#008000"/>
<path d="M444.96,357.23 L447.82,362.24 L442.10,362.24Z" fill="#008000"/>
<path d="M465.87,354.56 L468.73,359.56 L463.01,359.56Z" fill="#008000"/>
<path d="M486.78,347.87 L489.64,352.88 L483.92,352.88Z" fill="#008000"/>
<path d="M507.69,345.47 L510.55,350.47 L504.83,350.47Z" fill="#008000"/>
<path d="M528.60,339.05 L531.46,344.06 L525.74,344.06Z" fill="#008000"/>
<polyline points="319.50,416.02 340.41,391.10 361.32,379.34 382.23,372.92 403.14,366.51 424.05,360.63 444.96,359.02 465.87,354.21 486.78,348.86 507.69,346.46 528.60,338.44" fill="none" stroke="#000000" stroke-width="1.8" stroke-linejoin="round"/>
<path d="M319.50,412.77 L322.43,416.02 L319.50,419.27 L316.57,416.02Z" fill="#000000"/>
<path d="M340.41,387.85 L343.34,391.10 L340.41,394.35 L337.49,391.10Z" fill="#000000"/>
<path d="M361.32,376.09 L364.25,379.34 L361.32,382.59 L358.39,379.34Z" fill="#000000"/>
<path d="M382.23,369.67 L385.16,372.92 L382.23,376.17 L379.31,372.92Z" fill="#000000"/>
<path d="M403.14,363.26 L406.06,366.51 L403.14,369.76 L400.21,366.51Z" fill="#000000"/>
<path d="M424.05,357.38 L426.98,360.63 L424.05,363.88 L421.12,360.63Z" fill="#000000"/>
<path d="M444.96,355.77 L447.89,359.02 L444.96,362.27 L442.04,359.02Z" fill="#000000"/>
<path d="M465.87,350.96 L468.80,354.21 L465.87,357.46 L462.94,354.21Z" fill="#000000"/>
<path d="M486.78,345.61 L489.70,348.86 L486.78,352.11 L483.85,348.86Z" fill="#000000"/>
<path d="M507.69,343.21 L510.62,346.46 L507.69,349.71 L504.77,346.46Z" fill="#000000"/>
<path d="M528.60,335.19 L531.52,338.44 L528.60,341.69 L525.68,338.44Z" fill="#000000"/>
<path d="M359.90,290.90H378.50" stroke="#ff0000" stroke-width="1.8"/>
<circle cx="369.00" cy="290.90" r="2.00" fill="#ff0000"/>
<text transform="translate(382.70,294.70) scale(0.987,1)" font-size="8.6" font-weight="normal" text-anchor="start" fill="#000" textLength="97.90" lengthAdjust="spacing">Peeled OFSP flour_250µm</text>
<path d="M359.90,301.00H378.50" stroke="#0000ff" stroke-width="1.8"/>
<path d="M369.00,298.80 L371.20,302.65 L366.80,302.65Z" fill="#0000ff"/>
<text transform="translate(382.70,304.80) scale(0.987,1)" font-size="8.6" font-weight="normal" text-anchor="start" fill="#000" textLength="97.90" lengthAdjust="spacing">Peeled OFSP flour_500µm</text>
<path d="M359.90,311.10H378.50" stroke="#008000" stroke-width="1.8"/>
<path d="M369.00,308.90 L371.20,312.75 L366.80,312.75Z" fill="#008000"/>
<text transform="translate(382.70,314.90) scale(0.987,1)" font-size="8.6" font-weight="normal" text-anchor="start" fill="#000" textLength="107.46" lengthAdjust="spacing">Unpeeled OFSP flour_250µm</text>
<path d="M359.90,321.20H378.50" stroke="#000000" stroke-width="1.8"/>
<path d="M369.00,318.70 L371.25,321.20 L369.00,323.70 L366.75,321.20Z" fill="#000000"/>
<text transform="translate(382.70,325.00) scale(0.987,1)" font-size="8.6" font-weight="normal" text-anchor="start" fill="#000" textLength="107.46" lengthAdjust="spacing">Unpeeled OFSP flour_500µm</text>
</svg></body></html>
